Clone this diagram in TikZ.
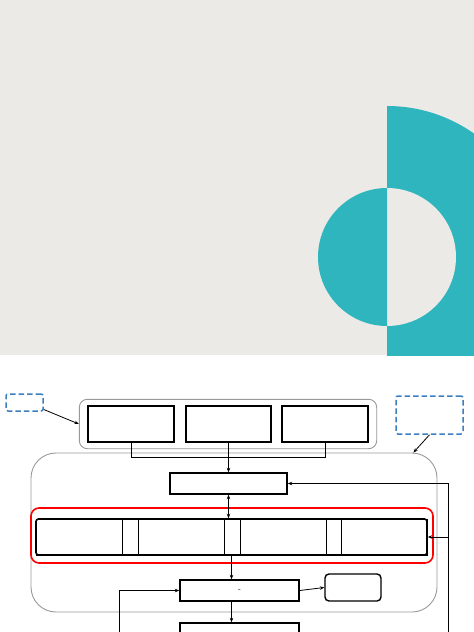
\documentclass[tikz,border=0pt]{standalone}
\usepackage{tikz}
\usetikzlibrary{arrows.meta,positioning,fit}
\definecolor{slidegray}{HTML}{EBEAE6}
\definecolor{slideteal}{HTML}{2FB5BD}
\definecolor{noteblue}{HTML}{3C7FC1}
\begin{document}
\begin{tikzpicture}[x=1pt, y=-1pt, >={Stealth[length=4.5pt,width=3.5pt]},
  box/.style={draw, line width=1.4pt, inner sep=0pt, minimum height=21pt},
  seg/.style={draw, line width=0.9pt, inner sep=0pt, outer sep=0pt, minimum height=36pt},
  note/.style={draw=noteblue, line width=1.5pt, dash pattern=on 5.5pt off 3pt, rounded corners=2pt, inner sep=0pt},
  region/.style={draw=gray!80, line width=0.9pt},
  link/.style={line width=0.8pt}]
  \useasboundingbox (0,0) rectangle (474,632);
  \clip (0,0) rectangle (474,632);
  % slide part
  \fill[slidegray] (0,0) rectangle (474,355);
  \fill[white] (0,355) rectangle (474,632);
  \begin{scope}
    \clip (387,0) rectangle (474,355);
    \fill[slideteal] (387,257) circle[radius=151pt];
    \fill[slideteal] (387,257) rectangle (474,355);
    \fill[slidegray] (387,257) circle[radius=69pt];
  \end{scope}
  \begin{scope}
    \clip (0,0) rectangle (387,355);
    \fill[slideteal] (387,257) circle[radius=69pt];
  \end{scope}

  % diagram part
  \node[region, minimum width=406pt, minimum height=159pt, rounded corners=25pt] (big) at (234,532.5) {};
  \node[box, minimum width=86pt, minimum height=36pt] (b1) at (131,424) {};
  \node[box, minimum width=85pt, minimum height=36pt] (b2) at (228.5,424) {};
  \node[box, minimum width=86pt, minimum height=36pt] (b3) at (325,424) {};
  \node[region, rounded corners=8pt, inner xsep=8pt, inner ysep=6pt, fit=(b1)(b2)(b3)] (grp) {};
  \node[note, minimum width=37pt, minimum height=17pt] (n1) at (24.5,402.5) {};
  \node[note, minimum width=67pt, minimum height=38pt] (n2) at (429.5,415) {};

  \node[box, minimum width=117pt] (A) at (228.5,483.5) {};
  \node[draw=red, line width=1.6pt, rounded corners=8pt, minimum width=402pt, minimum height=55pt] (frame) at (232,535.5) {};
  \node[seg, minimum width=86pt] (s1) at (79,537) {};
  \node[seg, minimum width=16pt, right=0pt of s1] (s2) {};
  \node[seg, minimum width=86pt, right=0pt of s2] (s3) {};
  \node[seg, minimum width=16pt, right=0pt of s3] (s4) {};
  \node[seg, minimum width=86pt, right=0pt of s4] (s5) {};
  \node[seg, minimum width=15pt, right=0pt of s5] (s6) {};
  \node[seg, minimum width=86pt, right=0pt of s6] (s7) {};
  \node[draw, line width=1.6pt, rounded corners=2.5pt, inner sep=0pt, minimum width=391pt, minimum height=36pt] (bar) at (231.5,537) {};

  \node[box, minimum width=119pt, font=\footnotesize] (B) at (239.5,590.5) {-};
  \node[box, minimum width=56pt, minimum height=27pt, rounded corners=4pt] (C) at (353,587.5) {};
  \node[box, minimum width=119pt, minimum height=27pt] (D) at (239.5,636.5) {};
  \coordinate (lin) at (119,640);
  \coordinate (rin) at (448,640);

  \draw[link, ->] (n1.-20) -- (grp.west);
  \draw[link, ->] (n2.south) -- ([xshift=-24pt]big.north east);
  \draw[link] (b1.south) -- ++(0,15) -| (b3.south);
  \draw[link, ->] (b2.south) -- (A.north);
  \draw[link, <->] (A.south) -- (A.south |- bar.north);
  \draw[link, ->] (bar.south) -- (bar.south |- B.north);
  \draw[link, ->] (B.south -| bar.south) -- (D.north -| bar.south);
  \draw[link, ->] (B.east) -- (C.west);
  \draw[link, ->] (lin) |- (B.west);
  \draw[link, ->] (rin) |- (A.east);
  \draw[link, ->] (bar.east -| rin) -- (bar.east);
\end{tikzpicture}
\end{document}
